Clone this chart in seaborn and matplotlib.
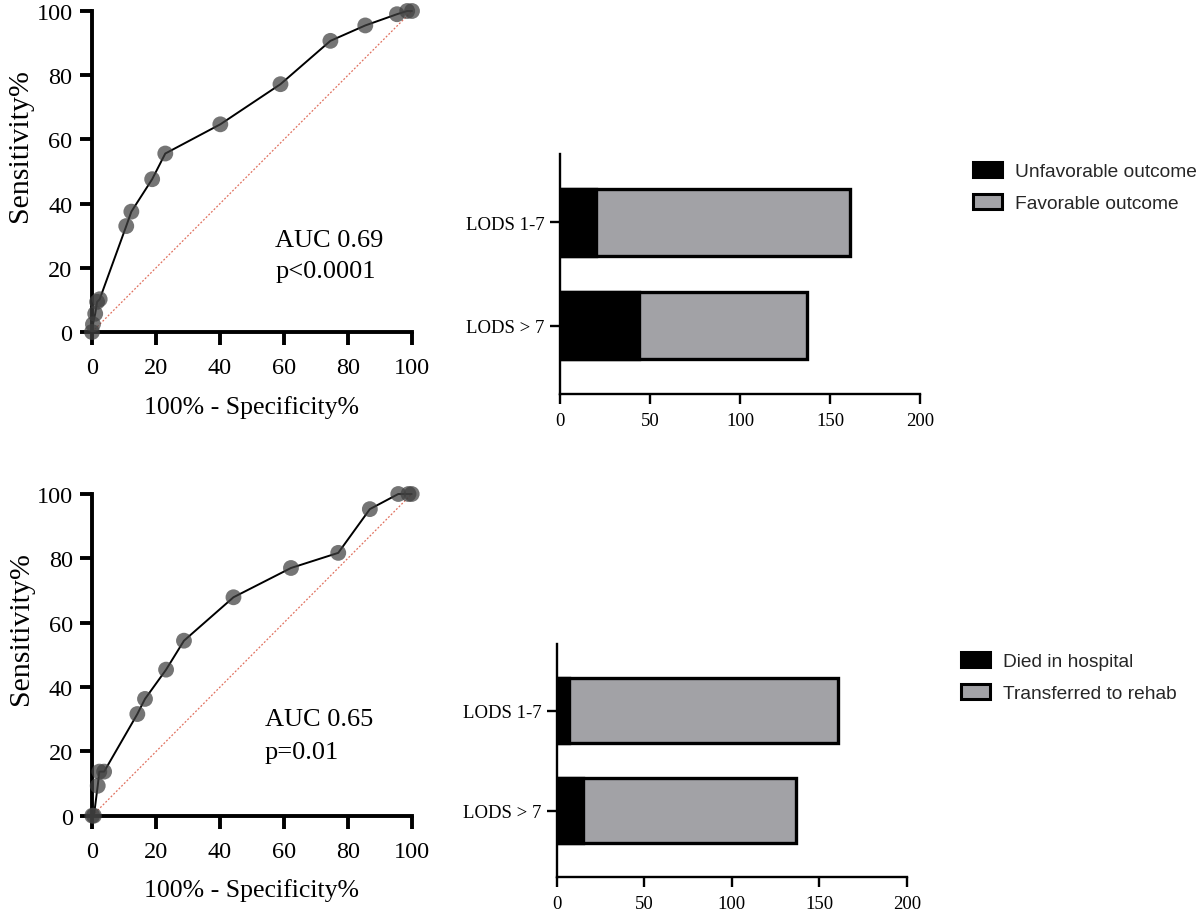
import matplotlib
matplotlib.use("Agg")
import matplotlib.pyplot as plt
import numpy as np
import pandas as pd
import seaborn as sns
from matplotlib.patches import Patch

# ---------------- data ----------------
roc1_fpr = [0, 0.3, 1.0, 1.6, 2.4, 10.7, 12.3, 18.8, 22.9, 40.1, 58.9, 74.5, 85.4, 95.3, 98.5, 100]
roc1_tpr = [0, 2.4, 5.7, 9.4, 10.2, 33.0, 37.5, 47.6, 55.6, 64.7, 77.2, 90.7, 95.5, 99.0, 100, 100]
roc1_text = ["AUC 0.69", "p<0.0001"]

roc2_fpr = [0, 0.5, 1.7, 2.2, 3.7, 14.1, 16.5, 23.1, 28.7, 44.2, 62.2, 77.0, 86.9, 95.8, 99.0, 100]
roc2_tpr = [0, 0, 9.3, 13.7, 13.7, 31.6, 36.3, 45.4, 54.4, 67.9, 77.0, 81.7, 95.3, 100, 100, 100]
roc2_text = ["AUC 0.65", "p=0.01"]

roc_ticks = [0, 20, 40, 60, 80, 100]
roc_xlabel = "100% - Specificity%"
roc_ylabel = "Sensitivity%"

categories = ["LODS 1-7", "LODS > 7"]
unfavorable = [20, 44]
favorable = [141, 93]
died = [7, 15]
rehab = [154, 122]
bar_ticks = [0, 50, 100, 150, 200]
legend1 = ["Unfavorable outcome", "Favorable outcome"]
legend2 = ["Died in hospital", "Transferred to rehab"]

# ---------------- style ----------------
sns.set_theme(style="white")
plt.rcParams["font.family"] = ["Liberation Serif", "DejaVu Serif"]

GRAY = "#a2a2a6"
W, H = 1200, 912
fig = plt.figure(figsize=(12, 9.12), dpi=100)


def px_axes(left, top, right, bottom):
    return fig.add_axes([left / W, 1 - bottom / H, (right - left) / W, (bottom - top) / H])


def roc_panel(ax, fpr, tpr, text, tx, ty1, ty2):
    ax.plot([0, 100], [0, 100], color="#e0705e", lw=0.9, ls=(0, (1.5, 1.5)), zorder=1)
    df = pd.DataFrame({"fpr": fpr, "tpr": tpr})
    sns.lineplot(data=df, x="fpr", y="tpr", sort=False, color="black", lw=1.4,
                 ax=ax, zorder=2, clip_on=False)
    sns.scatterplot(data=df, x="fpr", y="tpr", s=130, color="#404040", alpha=0.72,
                    edgecolor="none", ax=ax, zorder=3, clip_on=False)
    ax.set_xlim(0, 100)
    ax.set_ylim(0, 100)
    ax.set_xticks(roc_ticks)
    ax.set_yticks(roc_ticks)
    for s in ["top", "right"]:
        ax.spines[s].set_visible(False)
    for s in ["left", "bottom"]:
        ax.spines[s].set_linewidth(2.8)
        ax.spines[s].set_color("black")
    ax.tick_params(axis="both", which="major", direction="out", length=9, width=2.8,
                   color="black", labelsize=17.5, labelcolor="black", pad=5, left=True, bottom=True)
    ax.tick_params(axis="x", pad=9)
    ax.set_xlabel(roc_xlabel, fontsize=18.5, color="black", labelpad=12)
    ax.set_ylabel(roc_ylabel, fontsize=21.5, color="black")
    ax.yaxis.set_label_coords(-0.183, 0.585)
    ax.text(tx, ty1, text[0], fontsize=19, va="center", ha="left", color="black")
    ax.text(tx, ty2, text[1], fontsize=19, va="center", ha="left", color="black")
    ax.patch.set_alpha(0)


def bar_panel(ax, first, second, labels, legend_xy):
    totals = [a + b for a, b in zip(first, second)]
    df = pd.DataFrame({"cat": categories, "total": totals, "first": first})
    sns.barplot(data=df, x="total", y="cat", color=GRAY, saturation=1, width=0.65,
                edgecolor="black", linewidth=2.4, ax=ax, orient="h")
    sns.barplot(data=df, x="first", y="cat", color="black", saturation=1, width=0.65,
                edgecolor="black", linewidth=2.4, ax=ax, orient="h")
    ax.set_xlim(0, 200)
    ax.set_ylim(1.665, -0.665)
    ax.set_xticks(bar_ticks)
    ax.set_xlabel("")
    ax.set_ylabel("")
    for s in ["top", "right"]:
        ax.spines[s].set_visible(False)
    for s in ["left", "bottom"]:
        ax.spines[s].set_linewidth(1.7)
        ax.spines[s].set_color("black")
    ax.tick_params(axis="both", direction="out", length=7, width=1.7, color="black",
                   labelsize=13.5, labelcolor="black", left=True, bottom=True, pad=4)
    ax.tick_params(axis="x", pad=6)
    ax.patch.set_alpha(0)
    handles = [Patch(facecolor="black", edgecolor="black", linewidth=2.2),
               Patch(facecolor=GRAY, edgecolor="black", linewidth=2.2)]
    fig.legend(handles, labels, loc="upper left", bbox_to_anchor=legend_xy,
               frameon=False, borderpad=0, borderaxespad=0, handlelength=1.5,
               handleheight=0.8, handletextpad=0.7, labelspacing=0.74,
               prop={"family": ["Liberation Sans", "DejaVu Sans"], "size": 13.8})


ax1 = px_axes(92, 12, 412, 333)
roc_panel(ax1, roc1_fpr, roc1_tpr, roc1_text, 57.2, 28.7, 19.0)

ax2 = px_axes(92.3, 495, 411.7, 816.7)
roc_panel(ax2, roc2_fpr, roc2_tpr, roc2_text, 54.0, 30.0, 19.8)

ax3 = px_axes(560, 155, 920, 395)
bar_panel(ax3, unfavorable, favorable, legend1, (973 / W, 1 - 163 / H))

ax4 = px_axes(556.7, 645, 906.7, 878)
bar_panel(ax4, died, rehab, legend2, (961 / W, 1 - 653 / H))

fig.savefig("out.png", dpi=100, facecolor="white")
